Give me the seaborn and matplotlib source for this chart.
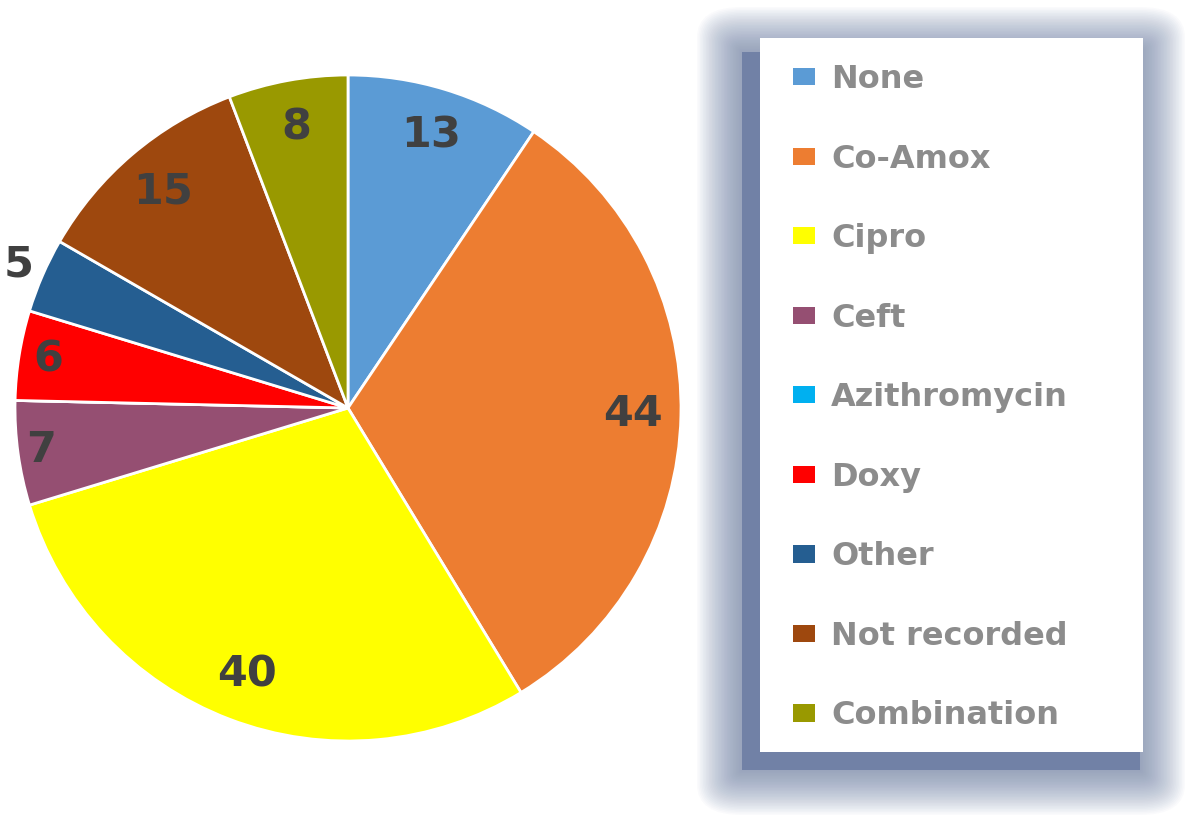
import matplotlib
matplotlib.use("Agg")
import matplotlib.pyplot as plt
import matplotlib.patches as mpatches
import numpy as np
import seaborn as sns

# data
categories = ["None", "Co-Amox", "Cipro", "Ceft", "Azithromycin", "Doxy",
              "Other", "Not recorded", "Combination"]
counts = [13, 44, 40, 7, 0, 6, 5, 15, 8]
colors = ["#5B9BD5", "#ED7D31", "#FFFF00", "#954F72", "#00B0F0", "#FF0000",
          "#255E91", "#9E480E", "#999900"]

sns.set_theme(style="white")
plt.rcParams["font.family"] = ["DejaVu Sans"]

W, H = 1200, 816
fig = plt.figure(figsize=(12, 8.16), dpi=100)
fig.patch.set_facecolor("white")

# pie axes: centre (348, 408) px, radius 333 px
R = 333
cx, cy = 348, 408
ax = fig.add_axes([(cx - R) / W, (H - cy - R) / H, 2 * R / W, 2 * R / H])
palette = sns.color_palette(colors)
wedges, _ = ax.pie(counts, colors=palette, startangle=90, counterclock=False,
                   radius=1, wedgeprops=dict(edgecolor="white", linewidth=2))
ax.set_xlim(-1, 1)
ax.set_ylim(-1, 1)
ax.set_aspect("equal")
ax.axis("off")

# value labels
dist = {"Ceft": 0.93, "Doxy": 0.91, "Other": 1.08}
for w, name, v in zip(wedges, categories, counts):
    if v == 0:
        continue
    ang = np.deg2rad((w.theta1 + w.theta2) / 2)
    d = dist.get(name, 0.855)
    ax.text(d * np.cos(ang), d * np.sin(ang), str(v), ha="center", va="center",
            fontsize=31, fontweight="heavy", color="#404040")

# legend box with blurred shadow
bx0, by0, bx1, by1 = 760, 38, 1143, 752
def fig_box(x0, y0, x1, y1):
    return (x0 / W, (H - y1) / H), (x1 - x0) / W, (y1 - y0) / H

steps = 30
for i in range(steps, 0, -1):
    g = i * 1.5
    (x, y), w, h = fig_box(bx0 - 18 - g, by0 + 14 - g, bx1 - 3 + g, by1 + 18 + g)
    fig.patches.append(mpatches.FancyBboxPatch(
        (x, y), w, h, boxstyle=f"round,pad=0,rounding_size={g / W:.4f}",
        transform=fig.transFigure, facecolor="#6a7ba3", edgecolor="none",
        alpha=0.03, zorder=0))
(x, y), w, h = fig_box(bx0 - 18, by0 + 14, bx1 - 3, by1 + 18)
fig.patches.append(mpatches.Rectangle((x, y), w, h, transform=fig.transFigure,
                                      facecolor="#6a7ba3", edgecolor="none",
                                      alpha=0.85, zorder=1))
(x, y), w, h = fig_box(bx0, by0, bx1, by1)
fig.patches.append(mpatches.Rectangle((x, y), w, h, transform=fig.transFigure,
                                      facecolor="white", edgecolor="none", zorder=2))

handles = [mpatches.Patch(facecolor=c, edgecolor="none", label=n)
           for c, n in zip(palette, categories)]
leg = fig.legend(handles=handles, loc="upper left",
                 bbox_to_anchor=((bx0 + 33) / W, (H - by0 - 26) / H),
                 frameon=False, fontsize=23, handlelength=0.7, handleheight=0.45,
                 handletextpad=0.5, labelspacing=1.52, borderpad=0, borderaxespad=0)
leg.set_zorder(3)
for t in leg.get_texts():
    t.set_color("#8c8c8c")
    t.set_fontweight("heavy")

fig.savefig("out.png", dpi=100)
